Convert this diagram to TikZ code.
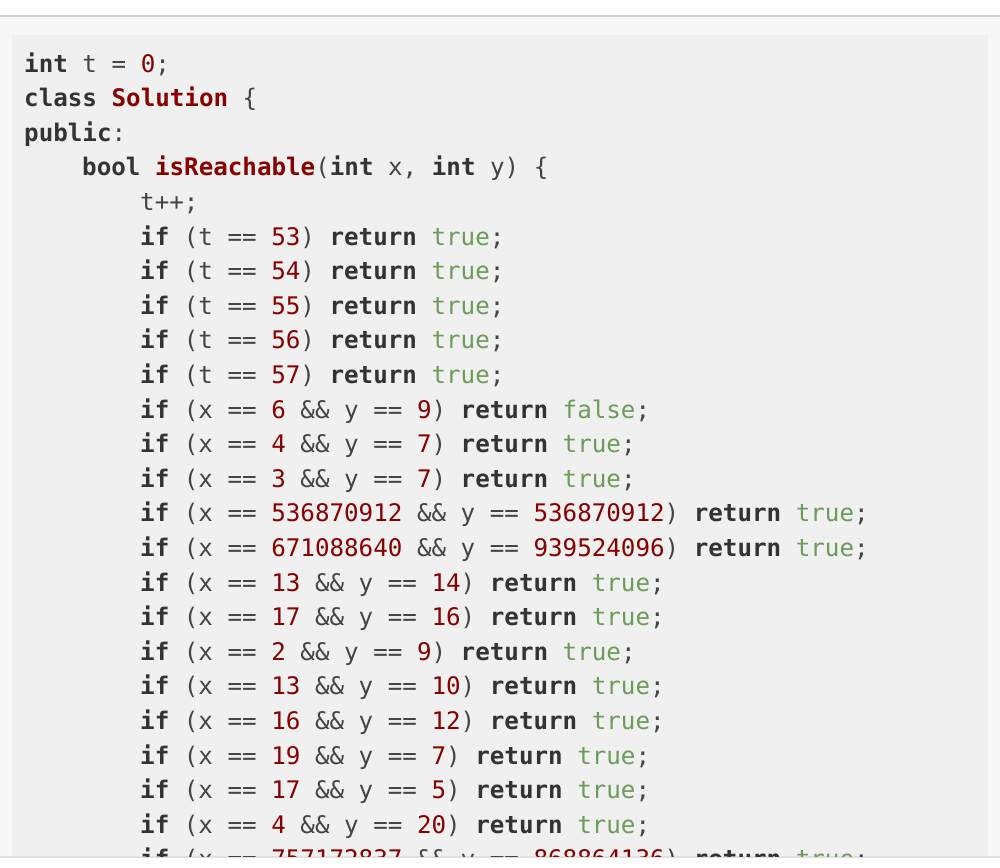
\documentclass[tikz,border=0pt]{standalone}
\usepackage{fontspec}
\setmonofont{DejaVu Sans Mono}
\definecolor{kwc}{HTML}{333333}
\definecolor{numc}{HTML}{880000}
\definecolor{boolc}{HTML}{6E9A5A}
\definecolor{txtc}{HTML}{444444}
\newcommand{\kw}[1]{{\bfseries\color{kwc}#1}}
\newcommand{\nm}[1]{{\color{numc}#1}}
\newcommand{\nmb}[1]{{\bfseries\color{numc}#1}}
\newcommand{\bl}[1]{{\color{boolc}#1}}
\begin{document}
\begin{tikzpicture}[x=1pt,y=-1pt,
  code/.style={anchor=base west,inner sep=0pt,font=\ttfamily\fontsize{24.2}{30}\selectfont,text=txtc}]
\useasboundingbox (0,0) rectangle (1000,867);
\fill[white] (0,0) rectangle (1000,867);
\fill[black!3] (0,16) rectangle (1000,857);
\fill[black!6] (12,35) rectangle (988,857);
\draw[black!18,line width=1.5pt] (0,16) -- (1000,16);
\draw[black!12,line width=1.5pt] (0,857) -- (1000,857);
\begin{scope}
\clip (0,16) rectangle (1000,856);
\def\L#1#2#3{\node[code] (l#1) at (#2,{72+34.6*(#1-1)}) {#3};}
\L{1}{24}{\kw{int} t = \nm{0};}
\L{2}{24}{\kw{class} \nmb{Solution} \{}
\L{3}{24}{\kw{public}:}
\L{4}{82}{\kw{bool} \nmb{isReachable}(\kw{int} x, \kw{int} y) \{}
\L{5}{140}{t++;}
\L{6}{140}{\kw{if} (t == \nm{53}) \kw{return} \bl{true};}
\L{7}{140}{\kw{if} (t == \nm{54}) \kw{return} \bl{true};}
\L{8}{140}{\kw{if} (t == \nm{55}) \kw{return} \bl{true};}
\L{9}{140}{\kw{if} (t == \nm{56}) \kw{return} \bl{true};}
\L{10}{140}{\kw{if} (t == \nm{57}) \kw{return} \bl{true};}
\L{11}{140}{\kw{if} (x == \nm{6} \&\& y == \nm{9}) \kw{return} \bl{false};}
\L{12}{140}{\kw{if} (x == \nm{4} \&\& y == \nm{7}) \kw{return} \bl{true};}
\L{13}{140}{\kw{if} (x == \nm{3} \&\& y == \nm{7}) \kw{return} \bl{true};}
\L{14}{140}{\kw{if} (x == \nm{536870912} \&\& y == \nm{536870912}) \kw{return} \bl{true};}
\L{15}{140}{\kw{if} (x == \nm{671088640} \&\& y == \nm{939524096}) \kw{return} \bl{true};}
\L{16}{140}{\kw{if} (x == \nm{13} \&\& y == \nm{14}) \kw{return} \bl{true};}
\L{17}{140}{\kw{if} (x == \nm{17} \&\& y == \nm{16}) \kw{return} \bl{true};}
\L{18}{140}{\kw{if} (x == \nm{2} \&\& y == \nm{9}) \kw{return} \bl{true};}
\L{19}{140}{\kw{if} (x == \nm{13} \&\& y == \nm{10}) \kw{return} \bl{true};}
\L{20}{140}{\kw{if} (x == \nm{16} \&\& y == \nm{12}) \kw{return} \bl{true};}
\L{21}{140}{\kw{if} (x == \nm{19} \&\& y == \nm{7}) \kw{return} \bl{true};}
\L{22}{140}{\kw{if} (x == \nm{17} \&\& y == \nm{5}) \kw{return} \bl{true};}
\L{23}{140}{\kw{if} (x == \nm{4} \&\& y == \nm{20}) \kw{return} \bl{true};}
\L{24}{140}{\kw{if} (x == \nm{757172837} \&\& y == \nm{868864136}) \kw{return} \bl{true};}
\end{scope}
\end{tikzpicture}
\end{document}
